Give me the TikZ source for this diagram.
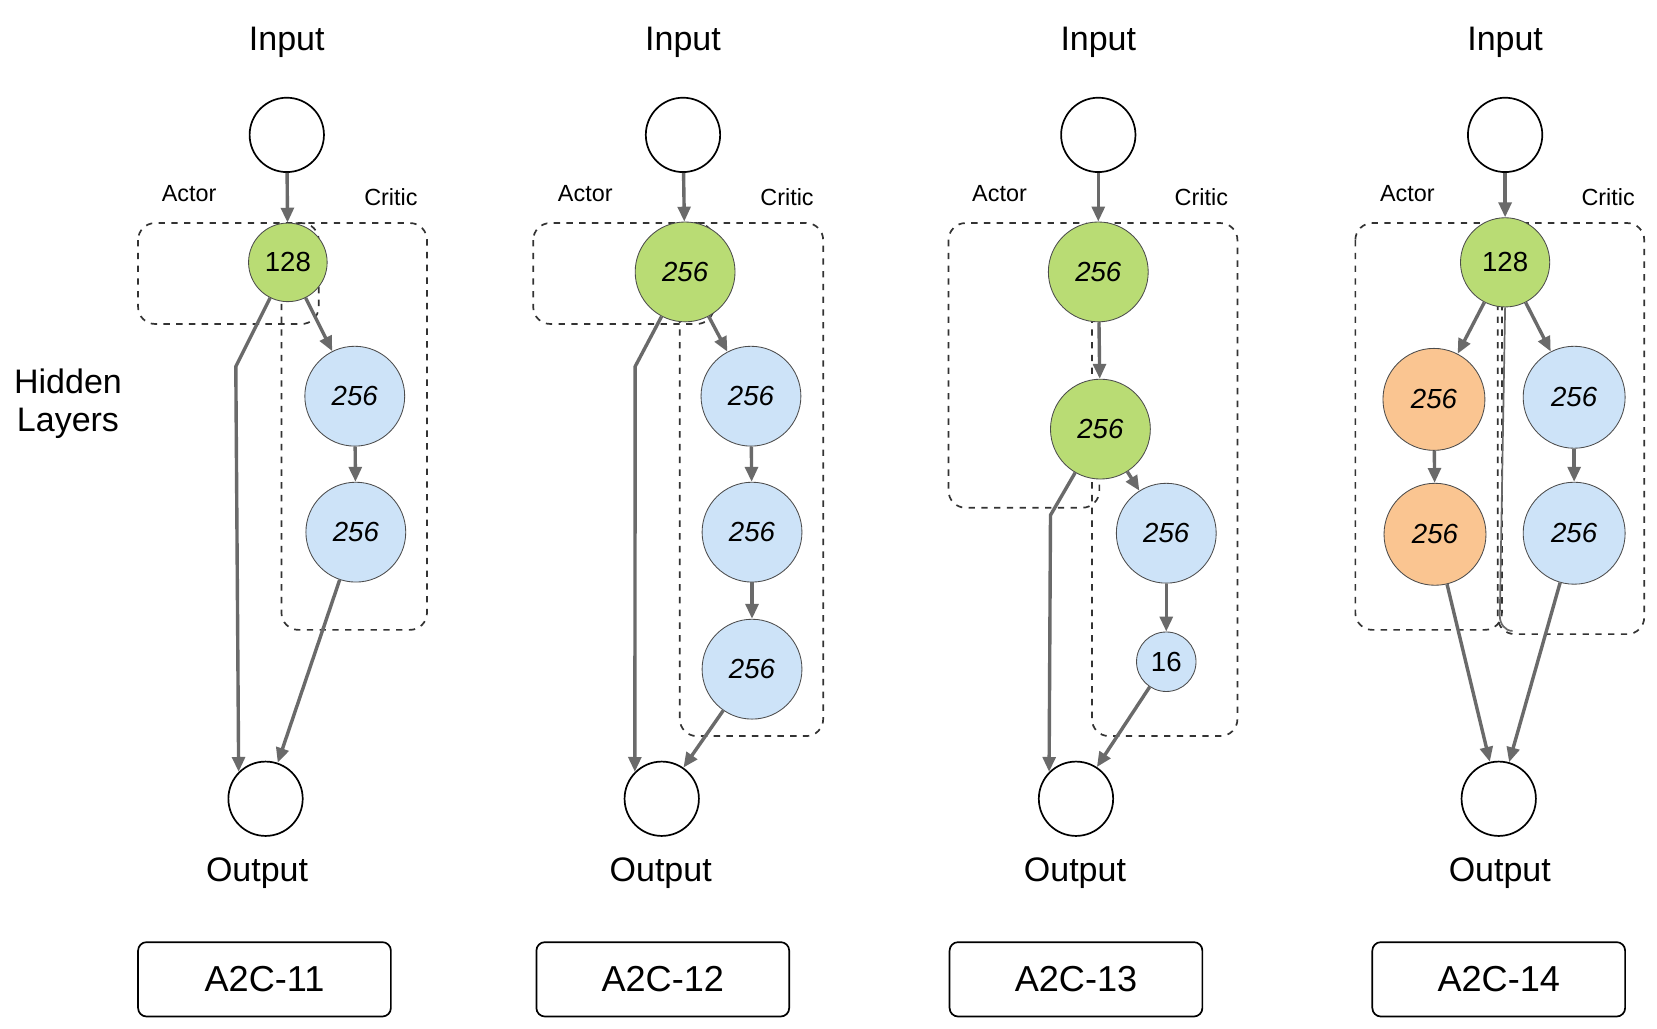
\documentclass[tikz,border=0pt]{standalone}
\usepackage{fontspec}
\setmainfont{Liberation Sans}
\usetikzlibrary{arrows.meta}
\definecolor{gfill}{HTML}{B9DC74}
\definecolor{bfill}{HTML}{CDE3F8}
\definecolor{ofill}{HTML}{FAC591}
\definecolor{edge}{HTML}{6A6A6A}
\begin{document}
\begin{tikzpicture}[x=0.5pt,y=-0.5pt,
 io/.style={circle,draw,thick,minimum size=35pt,inner sep=0pt},
 nd/.style={circle,draw=black!70,minimum size=#1,inner sep=0pt,font=\fontsize{13}{13}\selectfont\itshape},
 g/.style={nd=#1,fill=gfill}, b/.style={nd=#1,fill=bfill}, o/.style={nd=#1,fill=ofill},
 grp/.style={draw=black!80,dashed,thick,rounded corners=8pt},
 ar/.style={draw=edge,line width=1.6pt,-{Triangle[length=7pt,width=6pt]}},
 lbl/.style={font=\fontsize{16}{16}\selectfont},
 sm/.style={font=\fontsize{11}{11}\selectfont},
 tag/.style={draw,thick,rounded corners=4pt,minimum width=119pt,minimum height=35pt,font=\fontsize{17}{17}\selectfont}]
\useasboundingbox (0,0) rectangle (1560,968);
\fill[white] (0,0) rectangle (1560,968);
\node[lbl,align=center] (hl) at (64,380) {Hidden\\[2pt]Layers};
% panel 1
\draw[grp] (130,210) rectangle (300,305); \draw[grp] (265,210) rectangle (402,593);
\node[lbl] (t1) at (270,40) {Input}; \node[io] (i1) at (270,127) {};
\node[sm] (a1) at (178,182) {Actor}; \node[sm] (c1) at (368,186) {Critic};
\node[g=37pt,font=\fontsize{13}{13}\selectfont] (h11) at (271,247) {128};
\node[b=47pt] (h12) at (334,373) {256}; \node[b=47pt] (h13) at (335,501) {256};
\node[io] (o1) at (250,752) {}; \node[lbl] (u1) at (242,822) {Output};
\node[tag] (k1) at (249,922) {A2C-11};
\coordinate (m1) at (222,345);
\draw[ar] (i1) -- (h11); \draw[ar] (h11) -- (h12); \draw[ar] (h12) -- (h13);
\draw[ar] (h11) -- (m1) -- (o1.north west); \draw[ar] (h13) -- (o1);
% panel 2
\draw[grp] (502,210) rectangle (672,305); \draw[grp] (640,210) rectangle (775,693);
\node[lbl] (t2) at (643,40) {Input}; \node[io] (i2) at (643,127) {};
\node[sm] (a2) at (551,182) {Actor}; \node[sm] (c2) at (741,186) {Critic};
\node[g=47pt] (h21) at (645,256) {256};
\node[b=47pt] (h22) at (707,373) {256}; \node[b=47pt] (h23) at (708,501) {256}; \node[b=47pt] (h24) at (708,630) {256};
\node[io] (o2) at (623,752) {}; \node[lbl] (u2) at (622,822) {Output};
\node[tag] (k2) at (624,922) {A2C-12};
\coordinate (m2) at (598,345);
\draw[ar] (i2) -- (h21); \draw[ar] (h21) -- (h22); \draw[ar] (h22) -- (h23); \draw[ar] (h23) -- (h24);
\draw[ar] (h21) -- (m2) -- (o2.north west); \draw[ar] (h24) -- (o2);
% panel 3
\draw[grp] (893,210) rectangle (1035,478); \draw[grp] (1028,210) rectangle (1165,693);
\node[lbl] (t3) at (1034,40) {Input}; \node[io] (i3) at (1034,127) {};
\node[sm] (a3) at (941,182) {Actor}; \node[sm] (c3) at (1131,186) {Critic};
\node[g=47pt] (h31) at (1034,256) {256}; \node[g=47pt] (h32) at (1036,404) {256};
\node[b=47pt] (h33) at (1098,502) {256};
\node[b=28pt,font=\fontsize{13}{13}\selectfont] (h34) at (1098,623) {16};
\node[io] (o3) at (1013,752) {}; \node[lbl] (u3) at (1012,822) {Output};
\node[tag] (k3) at (1013,922) {A2C-13};
\coordinate (m3) at (989,485);
\draw[ar] (i3) -- (h31); \draw[ar] (h31) -- (h32); \draw[ar] (h32) -- (h33); \draw[ar] (h33) -- (h34);
\draw[ar] (h32) -- (m3) -- (o3.north west); \draw[ar] (h34) -- (o3);
% panel 4
\draw[grp] (1276,210) rectangle (1414,593); \draw[grp] (1410,210) rectangle (1548,597);
\node[lbl] (t4) at (1417,40) {Input}; \node[io] (i4) at (1417,127) {};
\node[sm] (a4) at (1325,182) {Actor}; \node[sm] (c4) at (1514,186) {Critic};
\node[g=42pt,font=\fontsize{13}{13}\selectfont] (h41) at (1417,247) {128};
\node[o=48pt] (h42) at (1350,376) {256}; \node[o=48pt] (h43) at (1351,503) {256};
\node[b=48pt] (h44) at (1482,374) {256}; \node[b=48pt] (h45) at (1482,502) {256};
\node[io] (o4) at (1411,752) {}; \node[lbl] (u4) at (1412,822) {Output};
\node[tag] (k4) at (1411,922) {A2C-14};
\coordinate (m4) at (1412,580);
\draw[edge,thick] (h41.south) -- (m4) to[out=-90,in=180] (1424,594);
\draw[ar] (i4) -- (h41); \draw[ar] (h41) -- (h42); \draw[ar] (h41) -- (h44);
\draw[ar] (h42) -- (h43); \draw[ar] (h44) -- (h45);
\draw[ar] (h43) -- (o4); \draw[ar] (h45) -- (o4);
\end{tikzpicture}
\end{document}
